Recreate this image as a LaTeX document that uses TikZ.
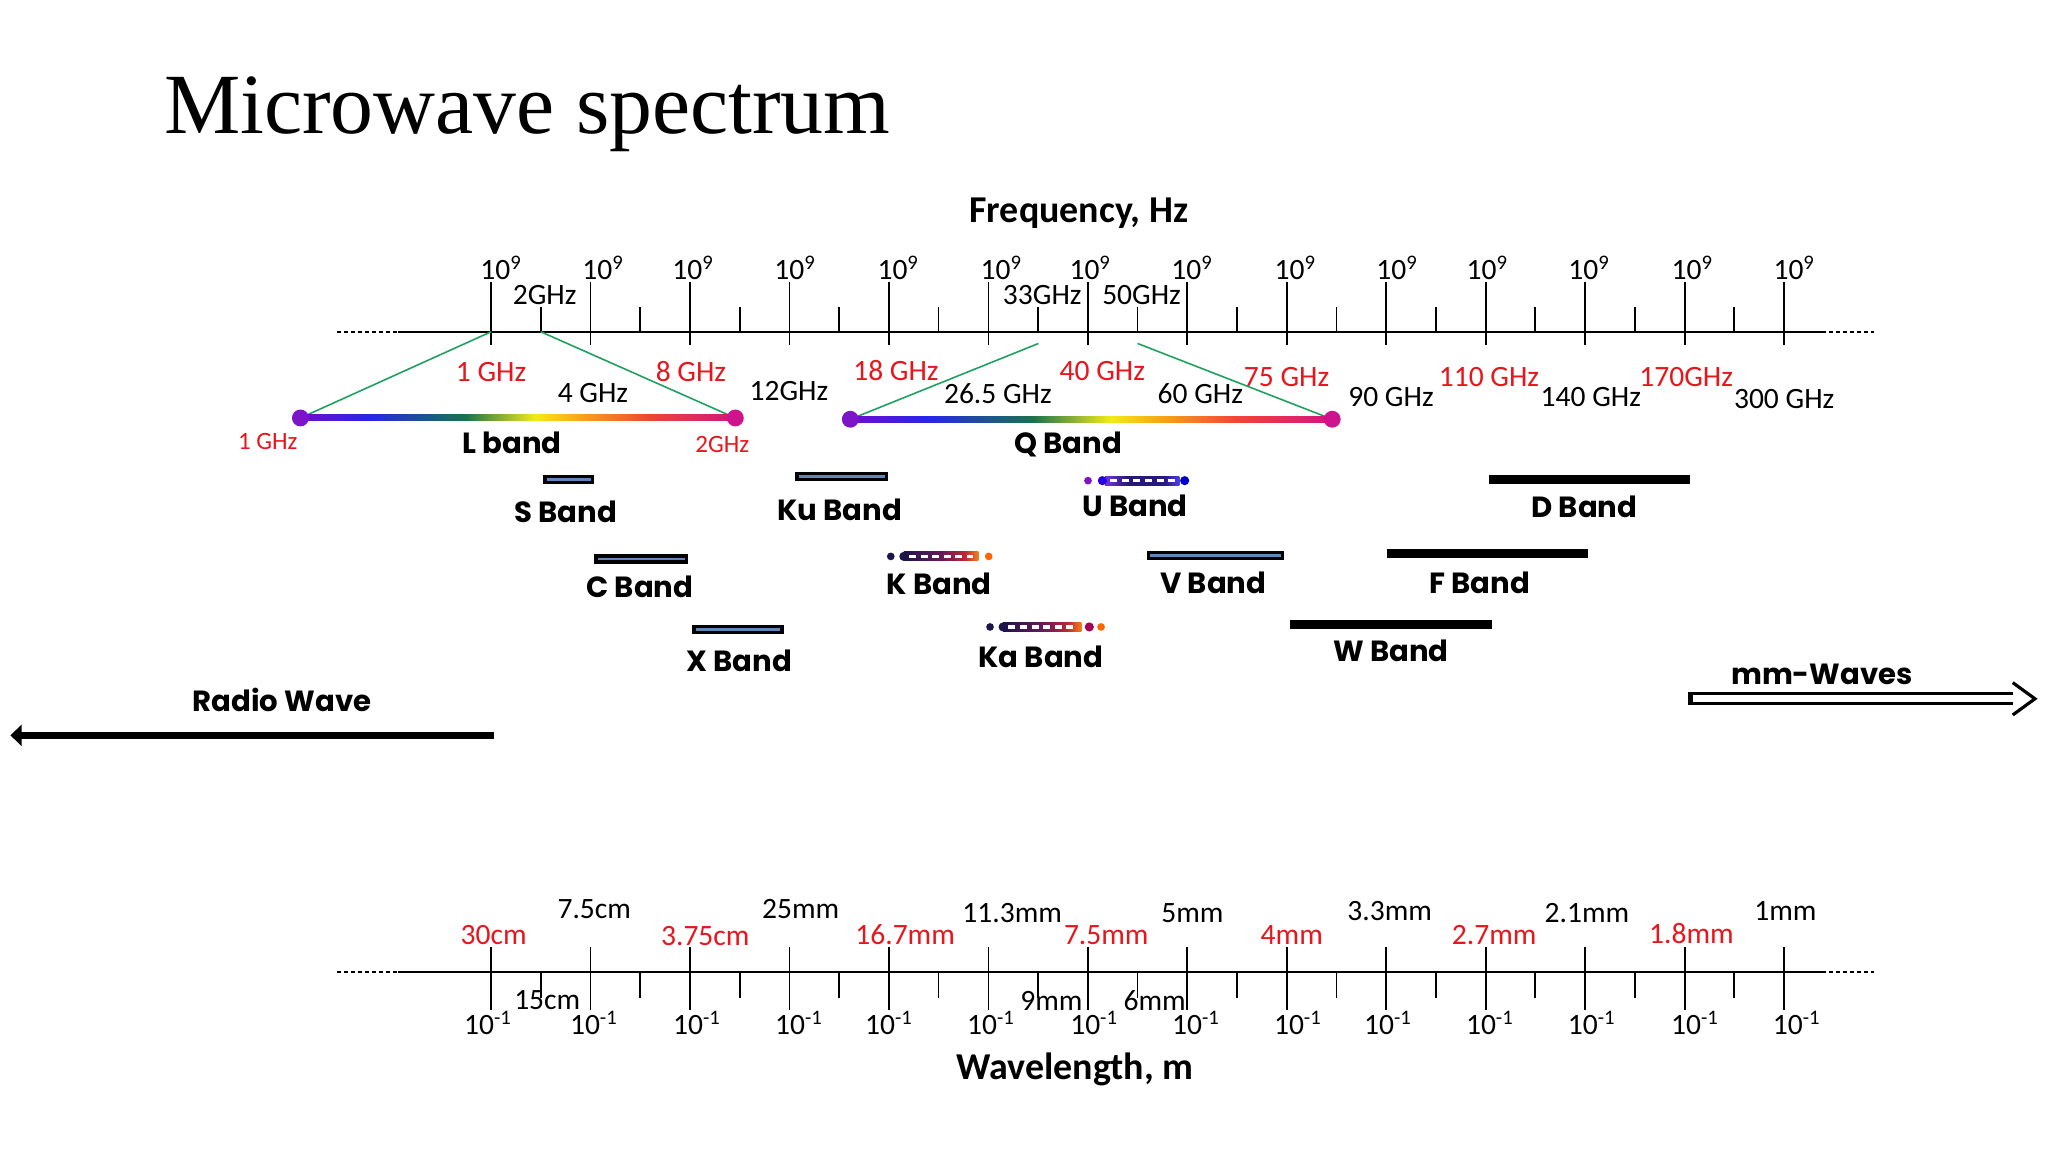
\documentclass[tikz,border=0pt]{standalone}
\usepackage{fontspec}
\setmainfont{Carlito}
\newfontfamily\titlefont{Liberation Serif}
\newfontfamily\bandfont{Poppins}
\usetikzlibrary{arrows.meta}

\definecolor{lblred}{RGB}{232,22,28}
\definecolor{linkgreen}{RGB}{30,160,95}
\definecolor{barblue}{RGB}{95,135,185}
\definecolor{dotviolet}{RGB}{125,20,200}
\definecolor{dotmagenta}{RGB}{205,20,140}
\definecolor{navy}{RGB}{30,22,75}

% rainbow for the L and Q bands (pgf fits 25bp..75bp onto the path)
\pgfdeclarehorizontalshading{rainbow}{100bp}{rgb(0bp)=(0.45,0.05,0.8); rgb(25bp)=(0.45,0.05,0.8); rgb(33bp)=(0.15,0.15,0.9); rgb(44bp)=(0.1,0.45,0.3); rgb(52bp)=(0.95,0.92,0.1); rgb(58bp)=(0.98,0.6,0.1); rgb(65bp)=(0.93,0.28,0.2); rgb(75bp)=(0.82,0.08,0.5); rgb(100bp)=(0.82,0.08,0.5)}
\pgfdeclarehorizontalshading{ushade}{100bp}{rgb(0bp)=(0.45,0.2,0.9); rgb(25bp)=(0.45,0.2,0.9); rgb(40bp)=(0.15,0.1,0.45); rgb(65bp)=(0.15,0.1,0.5); rgb(75bp)=(0.3,0.25,0.9); rgb(100bp)=(0.3,0.25,0.9)}
\pgfdeclarehorizontalshading{kshade}{100bp}{rgb(0bp)=(0.12,0.08,0.3); rgb(25bp)=(0.12,0.08,0.3); rgb(50bp)=(0.4,0.1,0.35); rgb(66bp)=(0.75,0.15,0.2); rgb(75bp)=(0.95,0.5,0.1); rgb(100bp)=(0.95,0.5,0.1)}

\begin{document}
\begin{tikzpicture}[x=0.0130612cm, y=-0.0130612cm, line width=0.5pt,
  every node/.style={inner sep=0pt},
  num/.style={font=\fontsize{8.4}{10}\selectfont, anchor=base},
  rednum/.style={num, text=lblred},
  smallred/.style={font=\fontsize{7.1}{9}\selectfont, text=lblred},
  bandlbl/.style={font=\bandfont\bfseries\fontsize{8.3}{10}\selectfont},
  axislbl/.style={font=\bfseries\fontsize{10.8}{12}\selectfont},
  link/.style={linkgreen, line width=0.45pt},
  enddot/.style={circle, minimum size=4.8pt},
  smalldot/.style={circle, minimum size=2.2pt},
  fadeaxis/.style={dash pattern=on 1.2pt off 0.8pt}]
\useasboundingbox[fill=white] (0,0) rectangle (1568,882);

\node[font=\titlefont\fontsize{24.4}{28}\selectfont, anchor=base west] (title) at (125,102) {Microwave spectrum};

% frequency axis
\node[axislbl] (freq) at (826,163) {Frequency, Hz};
\draw[fadeaxis] (258,254) -- (305,254);
\draw (305,254) -- (1395,254);
\draw[fadeaxis] (1395,254) -- (1435,254);
\foreach \i in {0,...,13}
  \draw ({376+76.15*\i},216) -- ({376+76.15*\i},264);
\foreach \i in {0,...,12}
  \draw ({414+76.15*\i},235) -- ({414+76.15*\i},254);
\foreach \x [count=\n] in {384,462,531,609,688,767,835,913,992,1070,1139,1217,1296,1374}
  \node[num] (p\n) at (\x,214) {10\textsuperscript{9}};
\node[num] (f2) at (417,233) {2GHz};
\node[num] (f33) at (798,233) {33GHz};
\node[num] (f50) at (874,233) {50GHz};
\foreach \x/\y/\t [count=\n] in {376/292/1 GHz, 529/292/8 GHz, 686/291/18 GHz, 844/291/40 GHz, 985/296/75 GHz, 1140/296/110 GHz, 1291/296/170GHz}
  \node[rednum] (fr\n) at (\x,\y) {\t};
\foreach \x/\y/\t [count=\n] in {454/308/4 GHz, 604/307/12GHz, 764/309/26.5 GHz, 919/309/60 GHz, 1065/311/90 GHz, 1218/311/140 GHz, 1366/313/300 GHz}
  \node[num] (fb\n) at (\x,\y) {\t};

% L band and Q band
\coordinate (g1) at (376,254);
\coordinate (g2) at (414,254);
\coordinate (g3) at (795,263);
\coordinate (g4) at (871,263);
\coordinate (la) at (230,320);
\coordinate (lb) at (563,320);
\coordinate (qa) at (651,321);
\coordinate (qb) at (1020,321);
\draw[link] (g1) -- (la);
\draw[link] (g2) -- (lb);
\draw[link] (g3) -- (qa);
\draw[link] (g4) -- (qb);
\shade[shading=rainbow] ([yshift=-0.85pt]la) rectangle ([yshift=0.85pt]lb);
\shade[shading=rainbow] ([yshift=-0.85pt]qa) rectangle ([yshift=0.85pt]qb);
\node[enddot, fill=dotviolet] (ladot) at (la) {};
\node[enddot, fill=dotmagenta] (lbdot) at (lb) {};
\node[enddot, fill=dotviolet] (qadot) at (qa) {};
\node[enddot, fill=dotmagenta] (qbdot) at (qb) {};
\node[bandlbl] (lband) at (392,339) {L band};
\node[smallred] (l1g) at (205,338) {1 GHz};
\node[smallred] (l2g) at (553,340) {2GHz};
\node[bandlbl] (qband) at (818,340) {Q Band};

% waveguide bands
\foreach \a/\b/\y in {416/455/367, 609/680/365, 455/527/428, 530/600/482, 878/983/425}
{
  \fill (\a,\y-3.5) rectangle (\b,\y+3.5);
  \draw[barblue, line width=0.8pt] (\a+2.5,\y) -- (\b-2.5,\y);
}
\foreach \a/\b/\y in {1140/1294/367, 1062/1216/424, 988/1142/478}
  \fill (\a,\y-3.5) rectangle (\b,\y+3.5);

\shade[shading=ushade] (846,364.5) rectangle (903,371.5);
\draw[white, line width=1pt, dash pattern=on 2pt off 1.3pt] (850,368) -- (900,368);
\node[smalldot, fill=dotviolet] (u1) at (833,368) {};
\node[smalldot, minimum size=2.6pt, fill=blue!70!violet] (u2) at (844,368) {};
\node[smalldot, minimum size=2.6pt, fill=blue!80!black] (u3) at (907,368) {};

\shade[shading=kshade] (692,422.5) rectangle (749,429.5);
\draw[white, line width=1pt, dash pattern=on 2pt off 1.3pt] (696,426) -- (745,426);
\node[smalldot, fill=navy] (k1) at (682,426) {};
\node[smalldot, minimum size=2.6pt, fill=navy] (k2) at (692,426) {};
\node[smalldot, fill=orange!80!red] (k3) at (757,426) {};

\shade[shading=kshade] (768,476.5) rectangle (828,483.5);
\draw[white, line width=1pt, dash pattern=on 2pt off 1.3pt] (772,480) -- (822,480);
\node[smalldot, fill=navy] (ka1) at (758,480) {};
\node[smalldot, minimum size=2.6pt, fill=navy] (ka2) at (768,480) {};
\node[smalldot, minimum size=2.6pt, fill=violet!70!red] (ka3) at (834,480) {};
\node[smalldot, fill=orange!80!red] (ka4) at (843,480) {};

\foreach \x/\y/\t [count=\n] in {433/392/S Band, 643/390/Ku Band, 869/387/U Band, 1213/388/D Band, 490/449/C Band, 719/447/K Band, 929/446/V Band, 1133/446/F Band, 566/506/X Band, 797/503/Ka Band, 1065/498/W Band}
  \node[bandlbl] (b\n) at (\x,\y) {\t};

% radio and mm-waves
\coordinate (rw0) at (378,563);
\coordinate (rw1) at (8,563);
\draw[line width=1.85pt, -{Triangle[length=3.2pt,width=6pt]}] (rw0) -- (rw1);
\node[bandlbl] (radio) at (216,536) {Radio Wave};
\coordinate (mm0) at (1296,535);
\coordinate (mm1) at (1541,535);
\coordinate (mmtip) at (1558,535);
\fill (1292,530) rectangle (1298,540);
\draw[line width=0.9pt, double=white, double distance=1.9pt] (mm0) -- (mm1);
\draw[line width=0.9pt, line join=miter] ([yshift=4.6pt]mm1) -- (mmtip) -- ([yshift=-4.6pt]mm1);
\node[bandlbl] (mmw) at (1395,516) {mm-Waves};

% wavelength axis
\draw[fadeaxis] (258,744) -- (305,744);
\draw (305,744) -- (1395,744);
\draw[fadeaxis] (1395,744) -- (1435,744);
\foreach \i in {0,...,13}
  \draw ({376+76.15*\i},725) -- ({376+76.15*\i},773);
\foreach \i in {0,...,12}
  \draw ({414+76.15*\i},744) -- ({414+76.15*\i},764);
\foreach \x [count=\n] in {374,455,534,612,681,759,838,916,994,1063,1141,1219,1298,1376}
  \node[num] (w\n) at (\x,792) {10\textsuperscript{-1}};
\foreach \x/\y/\t [count=\n] in {378/723/30cm, 540/724/3.75cm, 693/723/16.7mm, 847/723/7.5mm, 989/723/4mm, 1144/723/2.7mm, 1295/722/1.8mm}
  \node[rednum] (wr\n) at (\x,\y) {\t};
\foreach \x/\y/\t [count=\n] in {455/703/7.5cm, 613/703/25mm, 775/706/11.3mm, 913/706/5mm, 1064/705/3.3mm, 1215/706/2.1mm, 1367/705/1mm}
  \node[num] (wb\n) at (\x,\y) {\t};
\node[num] (w15) at (419,773) {15cm};
\node[num] (w9) at (805,774) {9mm};
\node[num] (w6) at (884,774) {6mm};
\node[axislbl] (wave) at (823,819) {Wavelength, m};
\end{tikzpicture}
\end{document}
